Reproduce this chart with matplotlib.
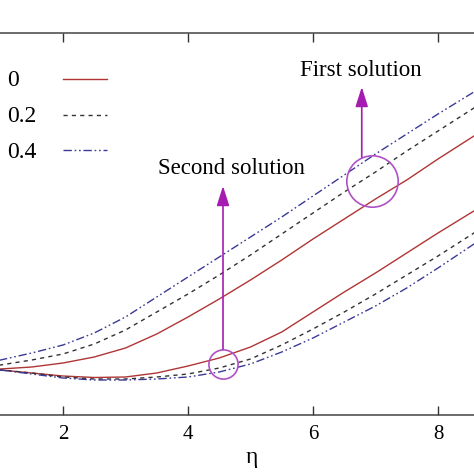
import matplotlib
matplotlib.use("Agg")
import matplotlib.pyplot as plt
from matplotlib.lines import Line2D

plt.rcParams['font.family'] = ['Liberation Serif', 'DejaVu Serif']

# eta grid and profiles
eta = [0, 0.5, 1.0, 1.5, 2.0, 2.5, 3.0, 3.5, 4.0, 4.5, 5.0, 5.5, 6.0, 6.5, 7.0, 7.5, 8.0, 8.6]

# first solution (upper branch)
first_0 = [0.24, 0.22, 0.21, 0.23, 0.27, 0.33, 0.42, 0.56, 0.73, 0.91, 1.10, 1.30, 1.51, 1.71, 1.91, 2.10, 2.31, 2.55]
first_02 = [0.24, 0.245, 0.25, 0.30, 0.36, 0.46, 0.60, 0.78, 0.96, 1.15, 1.35, 1.56, 1.77, 1.98, 2.18, 2.39, 2.59, 2.83]
first_04 = [0.24, 0.26, 0.30, 0.37, 0.45, 0.57, 0.73, 0.93, 1.13, 1.33, 1.53, 1.73, 1.94, 2.15, 2.36, 2.56, 2.76, 2.99]

# second solution (lower branch)
second_0 = [0.24, 0.22, 0.20, 0.17, 0.14, 0.125, 0.13, 0.17, 0.24, 0.32, 0.43, 0.58, 0.78, 0.98, 1.17, 1.37, 1.57, 1.80]
second_02 = [0.24, 0.22, 0.20, 0.17, 0.13, 0.11, 0.11, 0.13, 0.16, 0.22, 0.31, 0.45, 0.61, 0.78, 0.96, 1.15, 1.34, 1.58]
second_04 = [0.24, 0.22, 0.20, 0.16, 0.12, 0.10, 0.10, 0.11, 0.13, 0.18, 0.26, 0.38, 0.52, 0.68, 0.84, 1.02, 1.22, 1.47]

labels = ['0', '0.2', '0.4']
colors = ['#b03535', '#333333', '#3a3a96']
styles = ['-', (0, (3, 3)), (0, (6, 2, 1.2, 2, 1.2, 2))]

# circled spots
first_mark = (6.94, 2.09)
second_mark = (4.56, 0.265)

W = 474.0
fig = plt.figure(figsize=(4.74, 4.74), dpi=100)
ax = fig.add_axes([-62 / W, 59 / W, 562.5 / W, 382 / W])

firsts = [first_0, first_02, first_04]
seconds = [second_0, second_02, second_04]
for c, ls, f, s in zip(colors, styles, firsts, seconds):
    ax.plot(eta, f, color=c, linestyle=ls, lw=1.0)
    ax.plot(eta, s, color=c, linestyle=ls, lw=1.0)

ax.set_xlim(0, 9)
ax.set_ylim(-0.25, 3.57)
ax.set_xticks([2, 4, 6, 8])
ax.set_yticks([])
ax.tick_params(axis='x', direction='in', length=6.5, width=1, top=True,
               labelsize=15, pad=7, colors='#333333', labelcolor='black')
for sp in ax.spines.values():
    sp.set_color('#444444')
    sp.set_linewidth(1.1)

ax.set_xlabel('η', fontsize=17)
ax.xaxis.set_label_coords(0.558, -0.085)

purple = '#a41cb0'
ax.plot(*first_mark, 'o', ms=37, mfc='none', mec='#b050c8', mew=1.2)
ax.plot(*second_mark, 'o', ms=21, mfc='none', mec='#b050c8', mew=1.2)

arrow = dict(arrowstyle='-|>,head_length=1.0,head_width=0.32', color=purple,
             lw=1.2, mutation_scale=12, shrinkA=0, shrinkB=0)
ax.annotate('', xy=(6.78, 3.03), xytext=(6.78, 2.33), arrowprops=arrow)
ax.annotate('', xy=(4.56, 2.04), xytext=(4.56, 0.41), arrowprops=arrow)

ax.text(6.77, 3.19, 'First solution', fontsize=16.5, ha='center', va='center')
ax.text(4.70, 2.21, 'Second solution', fontsize=16.5, ha='center', va='center')

# legend drawn by hand: labels on the left, line samples to the right
for i, (lab, c, ls) in enumerate(zip(labels, colors, styles)):
    yy = 1 - (79 + 35.5 * i) / W
    fig.text(7 / W, yy - 2 / W, lab, fontsize=17, ha='left', va='center')
    fig.add_artist(Line2D([63 / W, 107 / W], [yy, yy], transform=fig.transFigure,
                          color=c, linestyle=ls, lw=1.0))

fig.savefig('out.png', dpi=100)
